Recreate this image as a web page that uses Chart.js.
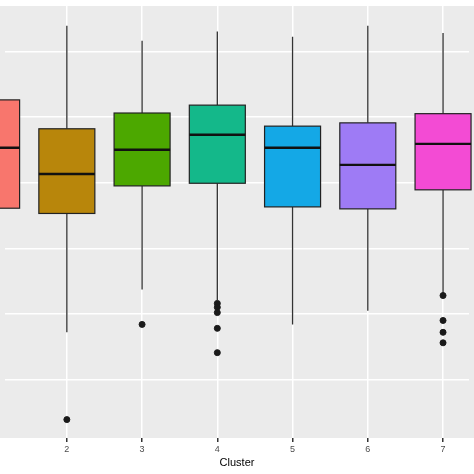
<!DOCTYPE html>
<html><head><meta charset="utf-8">
<script src="https://cdn.jsdelivr.net/npm/chart.js@4"></script>
<style>html,body{margin:0;padding:0;background:#fff}#w{width:474px;height:474px}</style>
</head><body><div id="w"><canvas id="c"></canvas></div>
<script>
const clusters = [1,2,3,4,5,6,7];
const whiskerLow  = [1.80,1.72,2.37,2.21,1.84,2.05,2.28];
const q1          = [3.61,3.53,3.95,3.99,3.63,3.60,3.89];
const median      = [4.53,4.13,4.50,4.73,4.53,4.27,4.59];
const q3          = [5.26,4.82,5.06,5.18,4.86,4.91,5.05];
const whiskerHigh = [6.50,6.39,6.16,6.30,6.22,6.39,6.28];
const outlierX = [2,3,4,4,4,4,4,7,7,7,7];
const outlierY = [0.39,1.84,2.16,2.10,2.02,1.78,1.41,2.28,1.90,1.72,1.56];
const colors = ['#F8766D','#B8860B','#4CA800','#14B88A','#14A8E6','#9E7BF5','#F34BD4'];

const bg = {id:'bg',beforeDraw(ch){const c=ch.ctx;c.save();c.fillStyle='#EBEBEB';c.fillRect(0,ch.chartArea.top,ch.width,ch.chartArea.bottom-ch.chartArea.top);c.restore();}};
const boxes = {id:'boxes',beforeDatasetsDraw(ch){
  const c=ch.ctx,a=ch.chartArea,x=ch.scales.x,y=ch.scales.y;
  c.save();c.beginPath();c.rect(0,a.top,ch.width,a.bottom-a.top);c.clip();
  const hw=28;
  clusters.forEach((k,i)=>{
    const px=x.getPixelForValue(k);
    c.strokeStyle='#333';c.lineWidth=1.3;
    c.beginPath();c.moveTo(px,y.getPixelForValue(whiskerHigh[i]));c.lineTo(px,y.getPixelForValue(q3[i]));
    c.moveTo(px,y.getPixelForValue(q1[i]));c.lineTo(px,y.getPixelForValue(whiskerLow[i]));c.stroke();
    const t=y.getPixelForValue(q3[i]),b=y.getPixelForValue(q1[i]);
    c.fillStyle=colors[i];c.fillRect(px-hw,t,2*hw,b-t);
    c.strokeStyle='#222';c.lineWidth=1.2;c.strokeRect(px-hw,t,2*hw,b-t);
    const m=y.getPixelForValue(median[i]);
    c.lineWidth=2.4;c.strokeStyle='#111';c.beginPath();c.moveTo(px-hw,m);c.lineTo(px+hw,m);c.stroke();
  });
  c.restore();
}};
new Chart(document.getElementById('c'),{
  type:'scatter',
  data:{datasets:[{data:outlierX.map((v,i)=>({x:v,y:outlierY[i]})),backgroundColor:'#1a1a1a',borderColor:'#1a1a1a',pointRadius:3}]},
  options:{responsive:true,maintainAspectRatio:false,animation:false,
    layout:{padding:{top:6,left:0,right:0}},
    plugins:{legend:{display:false},tooltip:{enabled:false}},
    scales:{
      x:{type:'linear',min:1.178,max:7.345,afterBuildTicks(s){s.ticks=[2,3,4,5,6,7].map(v=>({value:v}));},
        border:{display:false},
        grid:{color:'#ffffff',lineWidth:1.5,tickColor:'#333',tickLength:4},
        ticks:{color:'#4D4D4D',font:{family:'Liberation Sans',size:9},padding:2,maxRotation:0},
        title:{display:true,text:'Cluster',color:'#000',font:{family:'Liberation Sans',size:11},padding:{top:0}}},
      y:{min:0.11,max:6.69,afterBuildTicks(s){s.ticks=[1,2,3,4,5,6].map(v=>({value:v}));},
        border:{display:false},grid:{color:'#ffffff',lineWidth:1.5,drawTicks:false},
        ticks:{display:false},afterFit(s){s.width=0;}}
    }},
  plugins:[bg,boxes]
});
</script></body></html>
